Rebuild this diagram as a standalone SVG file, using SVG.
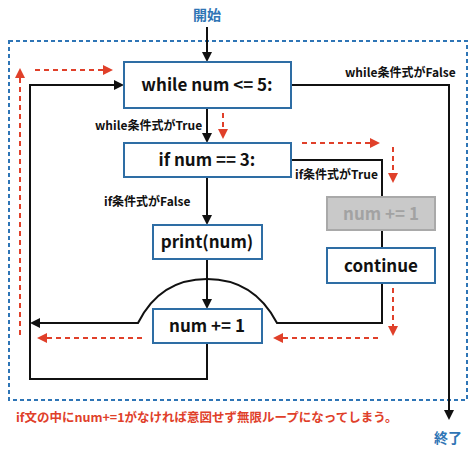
<svg xmlns="http://www.w3.org/2000/svg" width="474" height="453" viewBox="0 0 474 453">
<style>
text{font-family:"Noto Sans CJK JP","Open Sans",sans-serif;font-weight:bold}
.box{fill:#fff;stroke:#2e6da4;stroke-width:2}
.gbox{fill:#c9c9c9;stroke:#a9a9a9;stroke-width:2}
.code{font-size:17px;fill:#111;text-anchor:middle}
.gcode{font-size:17px;fill:#a2a2a2;text-anchor:middle}
.lbl{font-size:12px;fill:#111}
.blue{font-size:14px;fill:#2f75b5;text-anchor:middle}
.ln{fill:none;stroke:#111;stroke-width:2}
.arr{marker-end:url(#ah)}
.red{fill:none;stroke:#e0402a;stroke-width:2;stroke-dasharray:5 4;marker-end:url(#rh)}
.frame{fill:none;stroke:#2e75b6;stroke-width:2;stroke-dasharray:4 3}
</style>
<defs>
<marker id="ah" markerUnits="userSpaceOnUse" markerWidth="11" markerHeight="11" refX="7" refY="5" orient="auto"><path d="M0,0 L10,5 L0,10 z" fill="#111"/></marker>
<marker id="rh" markerUnits="userSpaceOnUse" markerWidth="11" markerHeight="11" refX="7" refY="5" orient="auto"><path d="M0,0 L10,5 L0,10 z" fill="#e0402a"/></marker>
</defs>
<rect class="frame" x="9" y="41" width="458" height="359"/>
<g id="connectors">
<path class="ln arr" d="M207,27 V59"/>
<path class="ln arr" d="M207,343 V379 H30 V85 H121"/>
<path class="ln arr" d="M207,108 V140"/>
<path class="ln arr" d="M207,177 V222"/>
<path class="ln arr" d="M207,259 V306"/>
<path class="ln arr" d="M291,85 H449 V417"/>
<path class="ln" d="M291,160 H382 V197"/>
<path class="ln" d="M382,230 V248"/>
<path class="ln arr" d="M382,283 V323 H277 Q254,279 207,279 Q160,279 138,323 H33"/>
<path class="red" d="M20,335 V71"/>
<path class="red" d="M35,70 H110"/>
<path class="red" d="M223,113 V136"/>
<path class="red" d="M302,143 H377"/>
<path class="red" d="M393,147 V180"/>
<path class="red" d="M393,288 V333"/>
<path class="red" d="M378,338 H276"/>
<path class="red" d="M142,338 H40"/>
<text class="lbl" x="95" y="130">while条件式がTrue</text>
<text class="lbl" x="345" y="77">while条件式がFalse</text>
<text class="lbl" x="104" y="206">if条件式がFalse</text>
<text class="lbl" x="295" y="179">if条件式がTrue</text>
</g>
<g id="start"><text class="blue" x="207" y="20">開始</text></g>
<g id="end"><text class="blue" x="448" y="443">終了</text></g>
<g id="n_while"><rect class="box" x="124" y="62" width="167" height="46"/><text class="code" x="207" y="91">while num &lt;= 5:</text></g>
<g id="n_if"><rect class="box" x="124" y="143" width="167" height="34"/><text class="code" x="207" y="166">if num == 3:</text></g>
<g id="n_print"><rect class="box" x="153" y="225" width="109" height="34"/><text class="code" x="207" y="248">print(num)</text></g>
<g id="n_inc"><rect class="box" x="153" y="309" width="109" height="34"/><text class="code" x="207" y="332">num += 1</text></g>
<g id="n_gray"><rect class="gbox" x="327" y="197" width="108" height="33"/><text class="gcode" x="381" y="220">num += 1</text></g>
<g id="n_continue"><rect class="box" x="327" y="248" width="108" height="35"/><text class="code" x="381" y="272">continue</text></g>
<g id="note"><text x="16" y="422" style="font-size:12.5px;fill:#e0402a">if文の中にnum+=1がなければ意図せず無限ループになってしまう。</text></g>
</svg>
